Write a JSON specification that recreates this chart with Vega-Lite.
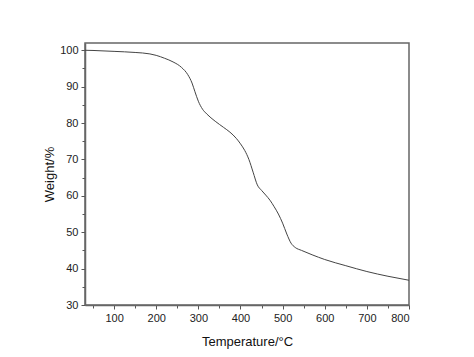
{
  "$schema": "https://vega.github.io/schema/vega-lite/v6.json",
  "width": 324,
  "height": 262,
  "autosize": "none",
  "padding": {"left": 85, "top": 43, "right": 65, "bottom": 52},
  "background": "white",
  "config": {
    "font": "Liberation Sans",
    "view": {"stroke": "#666666", "strokeWidth": 1.5},
    "axis": {
      "domainColor": "#666666",
      "domainWidth": 1.5,
      "tickColor": "#555555",
      "tickWidth": 1,
      "labelColor": "#222222",
      "labelFont": "Liberation Sans",
      "labelFontSize": 11,
      "titleFont": "Liberation Sans",
      "titleFontSize": 13,
      "titleFontWeight": "normal",
      "titleColor": "#111111",
      "grid": false
    }
  },
  "data": {
    "values": [
      {"t": 30, "w": 100.0},
      {"t": 50, "w": 99.95},
      {"t": 100, "w": 99.7},
      {"t": 150, "w": 99.4},
      {"t": 185, "w": 99.0},
      {"t": 200, "w": 98.6},
      {"t": 220, "w": 97.8},
      {"t": 240, "w": 96.8},
      {"t": 260, "w": 95.3},
      {"t": 275, "w": 93.3},
      {"t": 285, "w": 91.0},
      {"t": 292, "w": 88.6},
      {"t": 300, "w": 86.0},
      {"t": 310, "w": 83.8},
      {"t": 320, "w": 82.5},
      {"t": 340, "w": 80.5},
      {"t": 360, "w": 78.8},
      {"t": 375, "w": 77.5},
      {"t": 390, "w": 75.8},
      {"t": 400, "w": 74.3},
      {"t": 410, "w": 72.5},
      {"t": 420, "w": 70.0},
      {"t": 430, "w": 66.5},
      {"t": 440, "w": 63.0},
      {"t": 450, "w": 61.5},
      {"t": 460, "w": 60.2},
      {"t": 470, "w": 58.8},
      {"t": 480, "w": 57.0},
      {"t": 490, "w": 55.0},
      {"t": 500, "w": 52.5},
      {"t": 510, "w": 49.5},
      {"t": 520, "w": 47.0},
      {"t": 530, "w": 45.8},
      {"t": 545, "w": 45.0},
      {"t": 570, "w": 43.8},
      {"t": 600, "w": 42.5},
      {"t": 650, "w": 40.8},
      {"t": 700, "w": 39.2},
      {"t": 750, "w": 37.9},
      {"t": 800, "w": 36.8}
    ]
  },
  "mark": {"type": "line", "color": "#444444", "strokeWidth": 1, "interpolate": "monotone", "clip": true},
  "encoding": {
    "x": {
      "field": "t",
      "type": "quantitative",
      "scale": {"domain": [31, 800], "nice": false, "zero": false},
      "axis": {
        "title": "Temperature/°C",
        "values": [50, 100, 150, 200, 250, 300, 350, 400, 450, 500, 550, 600, 650, 700, 750, 800],
        "labelExpr": "datum.value % 100 === 0 ? datum.label : ''",
        "tickSize": {"condition": {"test": "datum.value % 100 === 0", "value": 4}, "value": 3},
        "labelPadding": 3,
        "titlePadding": 12,
        "format": "d"
      }
    },
    "y": {
      "field": "w",
      "type": "quantitative",
      "scale": {"domain": [30, 102], "nice": false, "zero": false},
      "axis": {
        "title": "Weight/%",
        "values": [30, 35, 40, 45, 50, 55, 60, 65, 70, 75, 80, 85, 90, 95, 100],
        "labelExpr": "datum.value % 10 === 0 ? datum.label : ''",
        "tickSize": {"condition": {"test": "datum.value % 10 === 0", "value": 4}, "value": 3},
        "labelPadding": 3,
        "titlePadding": 3,
        "format": "d"
      }
    }
  }
}
